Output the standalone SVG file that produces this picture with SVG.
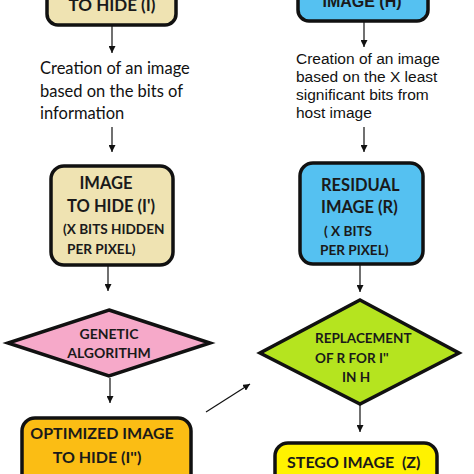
<svg xmlns="http://www.w3.org/2000/svg" width="474" height="474" viewBox="0 0 474 474">
<defs>
<marker id="ah" viewBox="0 0 10 10" refX="10" refY="5" markerWidth="7" markerHeight="7" markerUnits="userSpaceOnUse" orient="auto">
<path d="M0,0 L10,5 L0,10 z" fill="#111"/>
</marker>
<style>
.box{stroke:#111;stroke-width:3.5}
.dia{stroke:#111;stroke-width:3.5;stroke-linejoin:miter}
.bt{font-family:Lato,"Open Sans",sans-serif;font-weight:bold;fill:#1a1a1a}
.ct{font-family:Lato,"Noto Sans",sans-serif;font-size:16.5px;fill:#111}
.at{font-family:"Liberation Sans",Arial,sans-serif;font-size:15.5px;fill:#111}
.conn line{stroke:#111;stroke-width:1.2;marker-end:url(#ah)}
</style>
</defs>
<rect width="474" height="474" fill="#fff"/>
<g id="image-to-hide-I">
<rect class="box" x="47" y="-30" width="129" height="55" rx="11" fill="#efe3b2"/>
<text class="bt" x="112" y="11" font-size="17" text-anchor="middle">TO HIDE (I)</text>
</g>
<g id="host-image-H">
<rect class="box" x="298" y="-30" width="130" height="51" rx="11" fill="#55c1f1"/>
<text x="362" y="7" font-family="Liberation Sans,Arial,sans-serif" font-weight="bold" font-size="16" fill="#1a1a1a" text-anchor="middle">IMAGE (H)</text>
</g>
<g id="note-left">
<text class="ct" x="40" y="74">Creation of an image</text>
<text class="ct" x="40" y="97">based on the bits of</text>
<text class="ct" x="40" y="119">information</text>
</g>
<g id="note-right">
<text class="at" x="296" y="64">Creation of an image</text>
<text class="at" x="296" y="82">based on the X least</text>
<text class="at" x="296" y="100">significant bits from</text>
<text class="at" x="296" y="118">host image</text>
</g>
<g id="image-to-hide-I-prime">
<rect class="box" x="51" y="166" width="122" height="99" rx="13" fill="#efe3b2"/>
<text class="bt" font-size="16.5" x="106" y="189" text-anchor="middle">IMAGE</text>
<text class="bt" font-size="16.5" x="111" y="212" text-anchor="middle">TO HIDE (I')</text>
<text class="bt" font-size="13.6" x="63" y="234">(X BITS HIDDEN</text>
<text class="bt" font-size="13.6" x="67" y="254">PER PIXEL)</text>
</g>
<g id="residual-image-R">
<rect class="box" x="300" y="163" width="123" height="101" rx="13" fill="#55c1f1"/>
<text class="bt" font-size="16.5" x="321" y="191">RESIDUAL</text>
<text class="bt" font-size="16.5" x="321" y="213">IMAGE (R)</text>
<text class="bt" font-size="13.6" x="324" y="236">( X BITS</text>
<text class="bt" font-size="13.6" x="320" y="255">PER PIXEL)</text>
</g>
<g id="genetic-algorithm">
<polygon class="dia" points="109,310 210,343 109,376 8,343" fill="#f6a9c9"/>
<text class="bt" font-size="14" x="109" y="339" text-anchor="middle">GENETIC</text>
<text class="bt" font-size="14" x="109" y="358" text-anchor="middle">ALGORITHM</text>
</g>
<g id="replacement">
<polygon class="dia" points="360,300 459,353 360,404 260,353" fill="#b5e41f"/>
<text class="bt" font-size="13.5" x="315" y="343">REPLACEMENT</text>
<text class="bt" font-size="13.5" x="315" y="363">OF R FOR I''</text>
<text class="bt" font-size="13.5" x="342" y="382">IN H</text>
</g>
<g id="optimized-image">
<rect class="box" x="22" y="418" width="169" height="80" rx="13" fill="#fbbd14"/>
<text class="bt" font-size="16" x="102" y="439" text-anchor="middle">OPTIMIZED IMAGE</text>
<text class="bt" font-size="16" x="97" y="463" text-anchor="middle">TO HIDE (I'')</text>
</g>
<g id="stego-image-Z">
<rect class="box" x="275" y="443" width="162" height="60" rx="13" fill="#fff200"/>
<text class="bt" font-size="16" x="287" y="468" xml:space="preserve">STEGO IMAGE  (Z)</text>
</g>
<g id="connectors" class="conn">
<line x1="112" y1="26" x2="112" y2="53"/>
<line x1="112" y1="127" x2="112" y2="152"/>
<line x1="364" y1="22" x2="364" y2="47"/>
<line x1="364" y1="127" x2="364" y2="152"/>
<line x1="108" y1="266" x2="108" y2="291"/>
<line x1="360" y1="265" x2="360" y2="292"/>
<line x1="110" y1="378" x2="110" y2="403"/>
<line x1="360" y1="405" x2="360" y2="432"/>
<line x1="206" y1="412" x2="250" y2="384"/>
</g>
</svg>
